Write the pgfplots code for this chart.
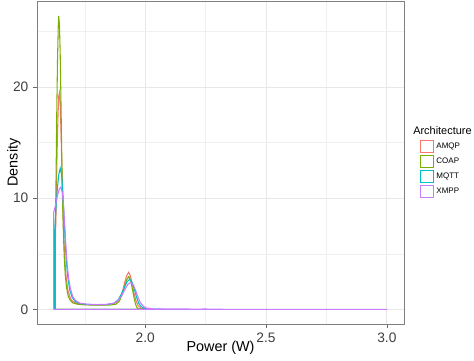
\documentclass[border=0pt]{standalone}
\usepackage{pgfplots}
\pgfplotsset{compat=1.18}
\usepackage{fontspec}
\setmainfont{Liberation Sans}
\definecolor{amqp}{HTML}{F8766D}
\definecolor{coap}{HTML}{7CAE00}
\definecolor{mqtt}{HTML}{00BFC4}
\definecolor{xmpp}{HTML}{C77CFF}
\begin{document}
\begin{tikzpicture}
\useasboundingbox (-27.75pt,-27pt) rectangle (327.75pt,243pt);
\begin{axis}[
  at={(0pt,0pt)}, anchor=south west,
  scale only axis, width=275.25pt, height=242.25pt,
  xmin=1.552, xmax=3.071, ymin=-1.32, ymax=27.75,
  xtick={2.0,2.5,3.0}, ytick={0,10,20},
  minor xtick={1.75,2.25,2.75}, minor ytick={5,15,25},
  grid=both,
  major grid style={color=black!9, line width=0.6pt},
  minor grid style={color=black!6, line width=0.4pt},
  axis line style={draw=black!50, line width=0.7pt},
  tick pos=left, tick align=outside,
  major tick length=3pt, minor tick length=0pt,
  tick style={color=black!60, line width=0.5pt},
  xticklabel style={/pgf/number format/.cd, fixed, fixed zerofill, precision=1},
  /pgf/number format/assume math mode=true,
  ticklabel style={font=\fontsize{10.3}{12}\selectfont, text=black!75},
  xlabel={Power (W)}, ylabel={Density},
  label style={font=\fontsize{10.8}{12}\selectfont},
  xlabel style={at={(axis description cs:0.5,-0.0743)}, anchor=center},
  ylabel style={at={(axis description cs:-0.0627,0.5)}, anchor=center},
  legend image code/.code={\draw[#1, fill=white, line width=0.8pt] (0pt,-4.3pt) rectangle (9.5pt,4.8pt);},
  legend style={draw=none, fill=none, font=\fontsize{6}{7}\selectfont,
    at={(1.043,0.572)}, anchor=north west, inner sep=0pt,
    row sep=1.4pt, cells={anchor=west}},
  legend cell align=left,
  every axis plot/.append style={line width=0.8pt},
]
\addplot[color=amqp] coordinates {
(1.627,0) (1.627,5) (1.631,9) (1.635,14) (1.639,17.5) (1.642,19.2) (1.645,19.5)
(1.648,18.6) (1.652,15.5) (1.656,12) (1.660,8.5) (1.664,6) (1.668,4.2) (1.673,2.8)
(1.680,1.7) (1.690,1.0) (1.700,0.7) (1.720,0.52) (1.750,0.43) (1.800,0.4)
(1.840,0.42) (1.870,0.5) (1.885,0.7) (1.897,1.1) (1.907,1.7) (1.916,2.5)
(1.924,3.05) (1.931,3.33) (1.938,3.05) (1.946,2.3) (1.954,1.4) (1.962,0.75)
(1.971,0.32) (1.983,0.1) (2.000,0.03) (2.040,0) (1.627,0)
};
\addlegendentry{AMQP}
\addplot[color=coap] coordinates {
(1.628,0) (1.628,7) (1.631,12) (1.634,18) (1.637,22.5) (1.640,25.5) (1.642,26.4)
(1.645,25.5) (1.648,23) (1.651,19) (1.654,14.5) (1.657,10.5) (1.661,7) (1.665,4.6)
(1.669,3.1) (1.674,2.0) (1.681,1.2) (1.690,0.8) (1.700,0.58) (1.720,0.46)
(1.750,0.4) (1.800,0.38) (1.850,0.38) (1.878,0.45) (1.893,0.75) (1.904,1.3)
(1.914,2.0) (1.923,2.65) (1.932,2.95) (1.940,2.6) (1.947,1.8) (1.954,1.0)
(1.960,0.45) (1.966,0.15) (1.975,0.03) (1.990,0) (1.628,0)
};
\addlegendentry{COAP}
\addplot[color=mqtt] coordinates {
(1.625,0) (1.625,7) (1.630,9) (1.636,10.8) (1.642,12.1) (1.648,12.7) (1.654,12.1)
(1.659,10.5) (1.664,8.2) (1.669,6) (1.674,4.2) (1.680,2.8) (1.688,1.7)
(1.698,1.05) (1.710,0.72) (1.730,0.52) (1.760,0.44) (1.800,0.42) (1.840,0.43)
(1.870,0.55) (1.888,0.85) (1.902,1.4) (1.914,2.0) (1.925,2.5) (1.936,2.7)
(1.946,2.4) (1.955,1.8) (1.964,1.1) (1.973,0.55) (1.983,0.25) (1.995,0.1)
(2.020,0.03) (2.080,0) (1.625,0)
};
\addlegendentry{MQTT}
\addplot[color=xmpp] coordinates {
(1.621,0) (1.621,8.7) (1.628,9.3) (1.636,10.2) (1.644,10.8) (1.651,11)
(1.657,10.5) (1.662,9.3) (1.667,7.5) (1.672,5.6) (1.677,4.0) (1.683,2.8) (1.690,1.9)
(1.700,1.15) (1.712,0.78) (1.730,0.55) (1.760,0.46) (1.800,0.43) (1.840,0.45)
(1.870,0.55) (1.888,0.8) (1.903,1.25) (1.916,1.8) (1.928,2.25) (1.940,2.42)
(1.951,2.2) (1.960,1.7) (1.970,1.1) (1.980,0.6) (1.992,0.28) (2.005,0.12)
(2.030,0.05) (2.080,0.03) (2.150,0.04) (2.200,0.02) (2.250,0.03) (2.290,0.01)
(2.350,0) (2.600,0) (3.000,0) (1.621,0)
};
\addlegendentry{XMPP}
\end{axis}
\node[anchor=west, font=\fontsize{8.2}{9}\selectfont, inner sep=0pt] at (282pt,144.75pt) {Architecture};
\end{tikzpicture}
\end{document}
